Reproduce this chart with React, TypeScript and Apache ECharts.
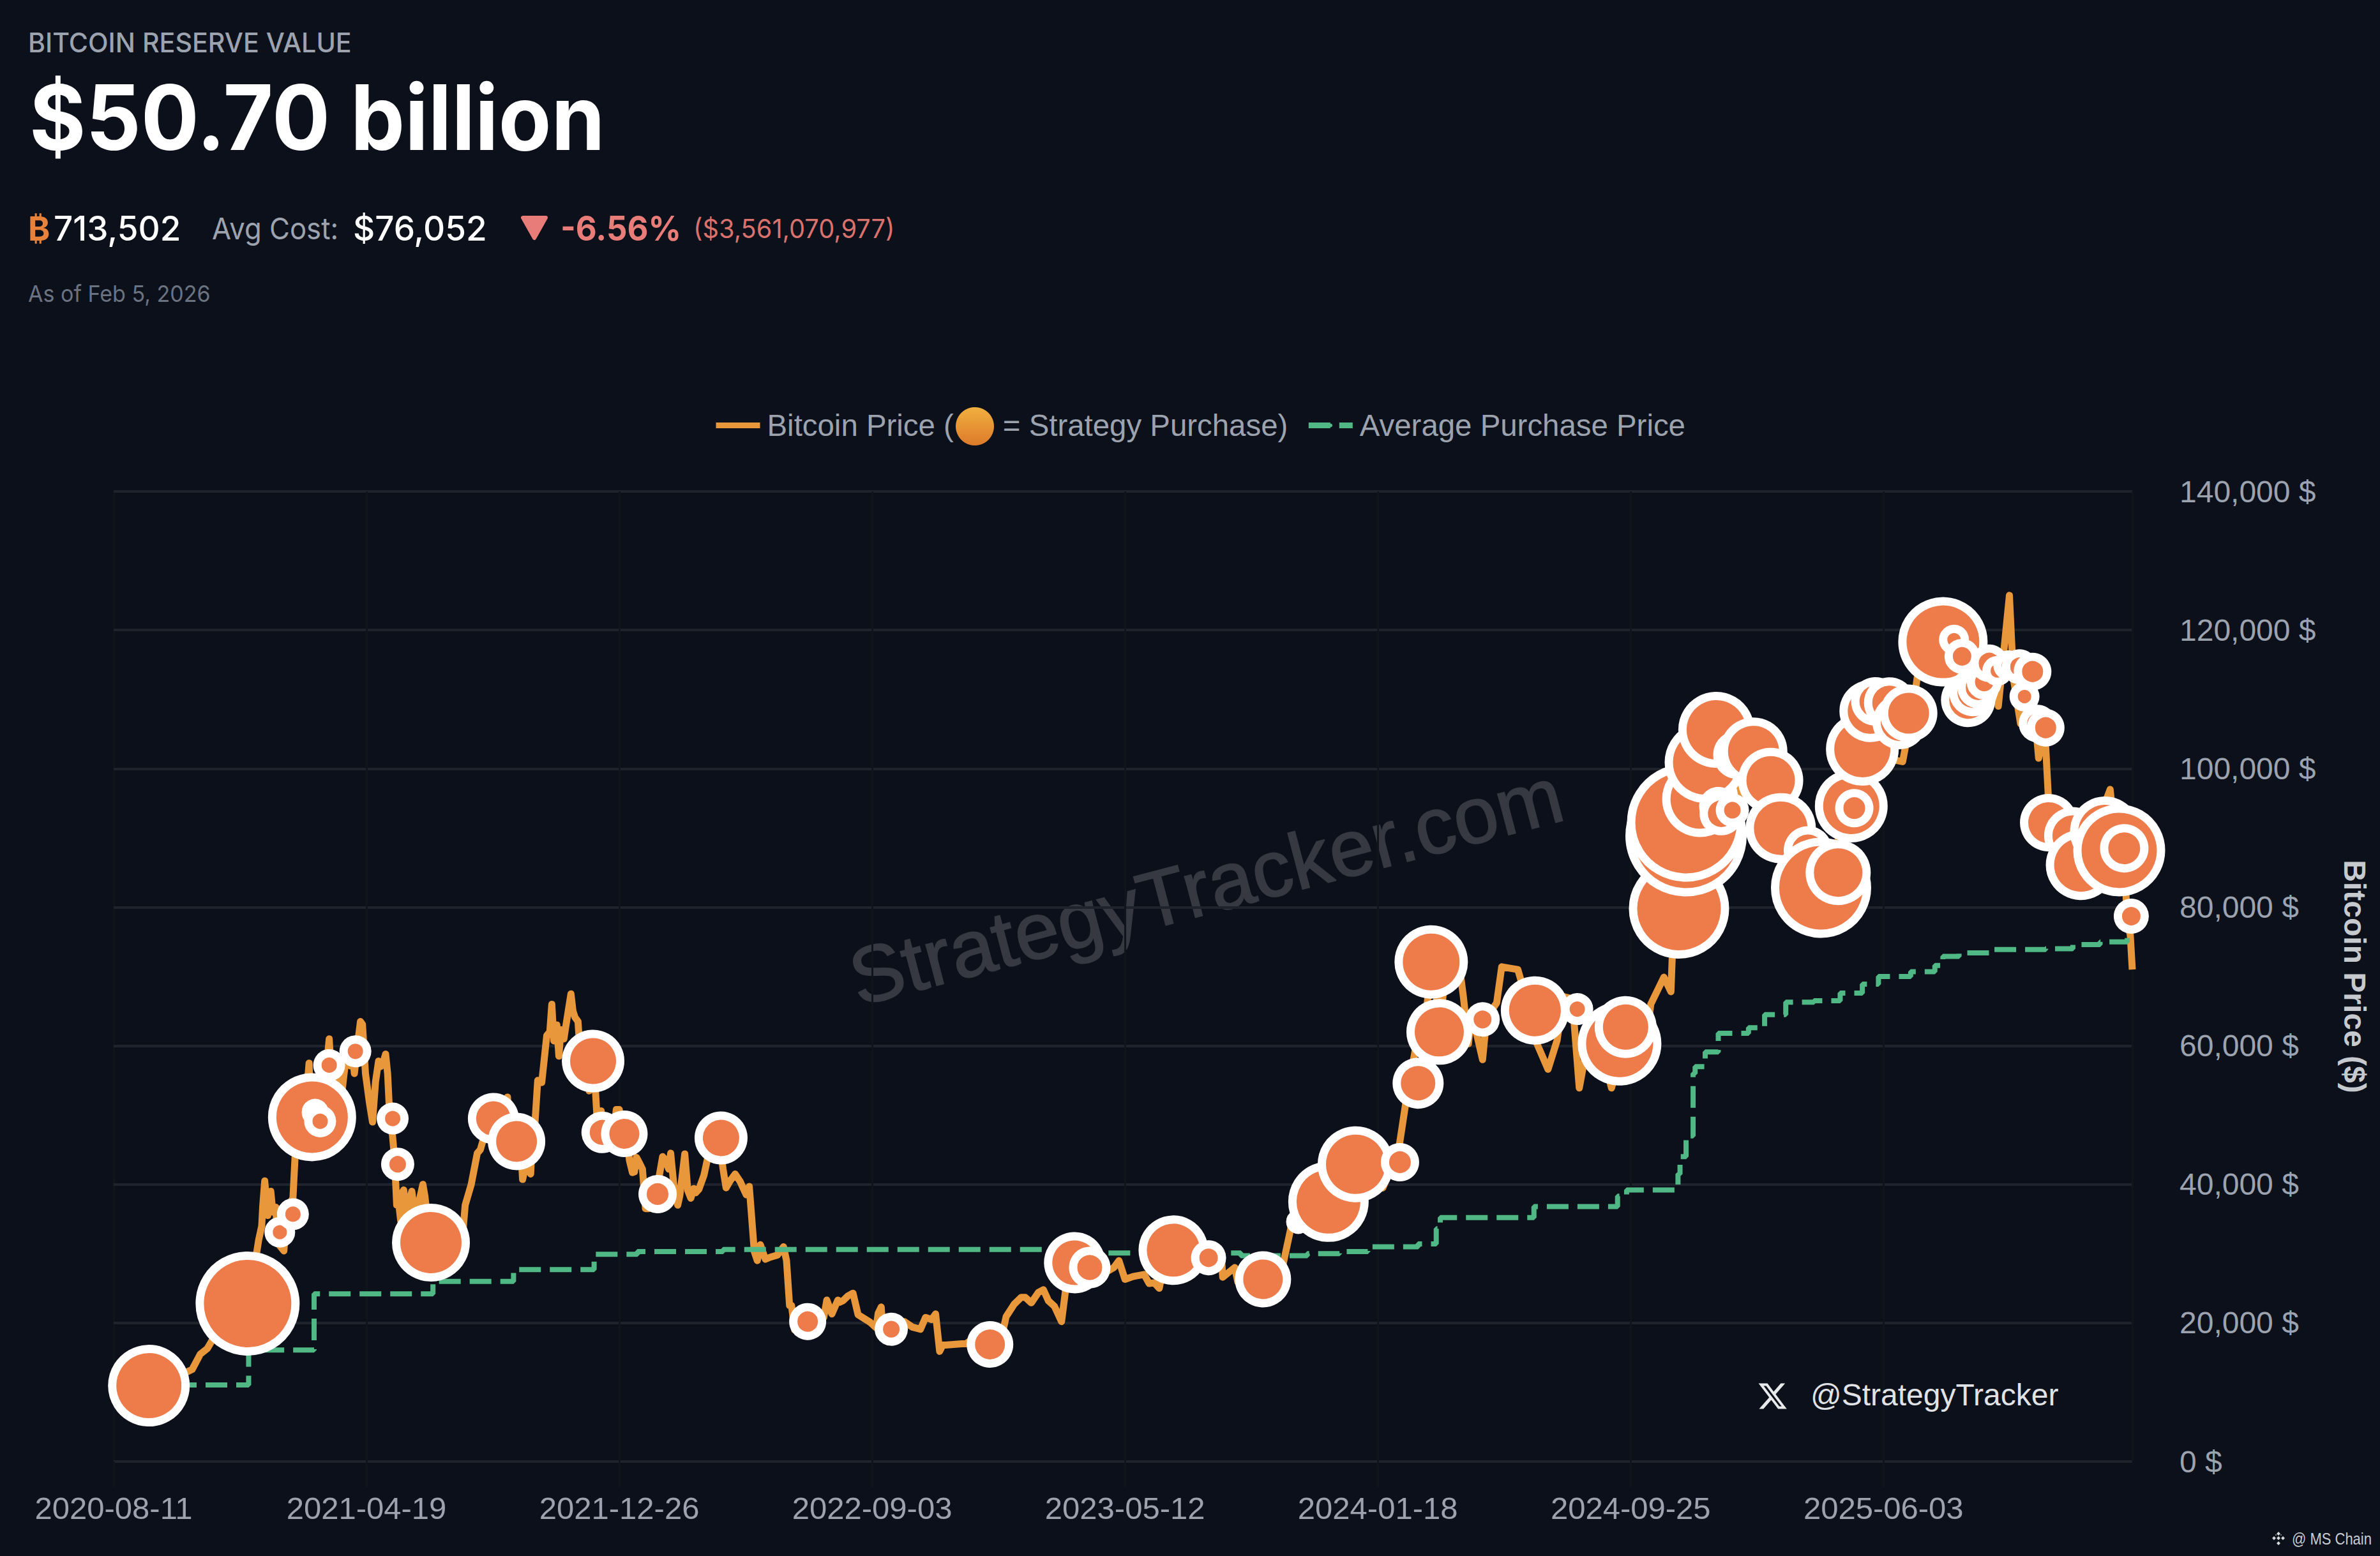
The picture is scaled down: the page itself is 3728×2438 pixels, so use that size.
import React, { useEffect, useRef } from "react";
import * as echarts from "echarts";

const xTickLabels = ["2020-08-11","2021-04-19","2021-12-26","2022-09-03","2023-05-12","2024-01-18","2024-09-25","2025-06-03"];
const START = Date.UTC(2020, 7, 11);
const dayOf = (s: string) => Math.round((Date.parse(s + "T00:00:00Z") - START) / 86400000);

const pricePoints: [string, number][] = [
["2020-08-11",11400],["2020-08-20",11800],["2020-09-05",10200],["2020-09-15",10800],["2020-09-25",10700],["2020-10-08",10900],["2020-10-15",11500],["2020-10-21",12800],["2020-10-28",13300],
["2020-11-05",15500],["2020-11-12",16300],["2020-11-18",17800],["2020-11-25",18700],["2020-11-27",17100],["2020-12-01",18800],["2020-12-08",18300],["2020-12-12",19000],["2020-12-16",21300],
["2020-12-20",24000],["2020-12-27",26500],["2021-01-02",32000],["2021-01-08",40500],["2021-01-11",35500],["2021-01-14",39000],["2021-01-21",31500],["2021-01-29",34000],["2021-02-03",37500],
["2021-02-08",46500],["2021-02-14",48700],["2021-02-21",57500],["2021-02-26",46500],["2021-03-02",48500],["2021-03-06",49000],["2021-03-13",61000],["2021-03-18",58000],["2021-03-25",52500],
["2021-03-31",59000],["2021-04-07",56000],["2021-04-13",63500],["2021-04-18",56000],["2021-04-25",49000],["2021-05-03",57000],["2021-05-08",58800],["2021-05-12",50000],["2021-05-15",46800],
["2021-05-19",37000],["2021-05-23",34700],["2021-05-28",36000],["2021-06-03",39000],["2021-06-08",33500],["2021-06-14",40000],["2021-06-21",31700],["2021-06-26",32000],["2021-07-03",34500],
["2021-07-10",33800],["2021-07-20",29800],["2021-07-26",37000],["2021-08-01",40000],["2021-08-07",44500],["2021-08-14",47000],["2021-08-22",49000],["2021-09-01",48800],["2021-09-06",52600],
["2021-09-08",46000],["2021-09-15",47700],["2021-09-21",40700],["2021-09-29",41500],["2021-10-01",48000],["2021-10-06",55000],["2021-10-15",61500],["2021-10-20",66000],["2021-10-27",58500],
["2021-11-01",61000],["2021-11-08",67500],["2021-11-10",65000],["2021-11-15",63500],["2021-11-18",56900],["2021-11-26",53500],["2021-12-01",57000],["2021-12-04",49200],["2021-12-10",47000],
["2021-12-16",47600],["2021-12-26",50800],["2022-01-01",47500],["2022-01-05",43500],["2022-01-10",41800],["2022-01-18",42200],["2022-01-24",36500],["2022-02-01",38700],["2022-02-10",43500],
["2022-02-15",44500],["2022-02-22",37000],["2022-03-01",44400],["2022-03-07",38000],["2022-03-15",39300],["2022-03-28",47500],["2022-04-05",45500],["2022-04-11",39500],["2022-04-20",41500],
["2022-05-01",38500],["2022-05-09",30300],["2022-05-12",29000],["2022-05-25",29500],["2022-06-07",31000],["2022-06-13",22500],["2022-06-18",19000],["2022-06-26",21000],["2022-07-01",19300],
["2022-07-13",20200],["2022-07-20",23300],["2022-07-31",23300],["2022-08-10",23900],["2022-08-15",24300],["2022-08-20",21200],["2022-09-01",20100],["2022-09-12",22300],["2022-09-19",19500],
["2022-10-01",19300],["2022-10-21",19100],["2022-11-05",21300],["2022-11-09",15900],["2022-11-15",16800],["2022-12-01",17000],["2022-12-13",17800],["2022-12-31",16500],["2023-01-08",17000],
["2023-01-14",20900],["2023-01-22",22700],["2023-02-02",23700],["2023-02-15",24400],["2023-02-20",24800],["2023-03-10",20200],["2023-03-14",24700],["2023-03-19",28000],["2023-04-01",28500],
["2023-04-13",30300],["2023-04-25",27500],["2023-05-06",29000],["2023-05-12",26300],["2023-05-31",27000],["2023-06-15",25000],["2023-06-22",30000],["2023-07-13",31400],["2023-08-01",29500],
["2023-08-16",29100],["2023-08-17",26600],["2023-09-01",25900],["2023-09-11",25100],["2023-10-01",27900],["2023-10-16",28500],["2023-10-24",33900],["2023-11-09",36700],["2023-12-05",44000],
["2023-12-20",43700],["2024-01-08",47000],["2024-01-11",46300],["2024-01-23",39500],["2024-02-08",45300],["2024-02-15",52000],["2024-02-28",62500],["2024-03-05",63800],["2024-03-13",73000],
["2024-03-19",62500],["2024-03-25",70000],["2024-04-08",71500],["2024-04-17",60300],["2024-05-01",58000],["2024-05-20",71400],["2024-06-05",71000],["2024-06-24",60300],["2024-07-05",56600],
["2024-07-14",60800],["2024-07-29",66800],["2024-08-05",53900],["2024-08-12",59400],["2024-08-26",62800],["2024-09-06",53900],["2024-09-18",60300],["2024-09-27",65800],["2024-10-10",60200],
["2024-10-28",69900],["2024-11-04",67800],["2024-11-06",75600],["2024-11-11",88600],["2024-11-13",90400],["2024-11-22",98900],["2024-11-26",91900],["2024-12-05",103500],["2024-12-17",106100],
["2024-12-30",92800],["2025-01-06",102000],["2025-01-13",94500],["2025-01-22",106000],["2025-02-03",97000],["2025-02-25",88700],["2025-03-02",94000],["2025-03-10",79000],["2025-03-24",87500],
["2025-04-08",76300],["2025-04-22",93500],["2025-05-08",103000],["2025-05-21",110000],["2025-06-05",101500],["2025-06-22",101000],["2025-07-03",109500],["2025-07-14",121000],["2025-07-22",119000],
["2025-08-01",113500],["2025-08-13",123500],["2025-09-01",108000],["2025-09-18",117000],["2025-09-25",109000],["2025-10-06",125000],["2025-10-10",113000],["2025-10-17",106500],["2025-10-27",115000],
["2025-11-04",101500],["2025-11-10",106000],["2025-11-14",95000],["2025-11-21",84000],["2025-12-01",86000],["2025-12-09",92500],["2025-12-15",86000],["2025-12-31",88000],["2026-01-05",93500],
["2026-01-14",97000],["2026-01-20",89000],["2026-01-29",84000],["2026-01-31",78000],["2026-02-03",76000],["2026-02-05",71000],
["2021-01-05",34000],["2021-01-06",36800],["2021-01-16",36000],["2021-01-19",36700],["2021-01-27",30400],["2021-02-01",33500],["2021-02-05",38000],["2021-02-11",47900],["2021-02-18",52000],
["2021-02-23",48800],["2021-03-03",50300],["2021-03-09",54800],["2021-03-15",55900],["2021-03-20",58300],["2021-03-23",54000],["2021-03-29",57500],["2021-04-03",57100],["2021-04-05",59000],
["2021-04-10",60000],["2021-04-15",63100],["2021-04-22",51700],["2021-04-28",54800],["2021-05-01",57800],["2021-05-05",57300],["2021-05-10",56000],["2021-05-13",49700],["2021-05-17",43500],
["2021-05-21",37300],["2021-05-24",38700],["2021-05-26",39200],["2021-05-31",37300],["2021-06-10",37400],["2021-06-16",38300],["2021-06-18",35800],["2021-07-02",33900],["2021-07-14",32800],
["2021-07-24",33600],["2021-08-10",45000],["2021-08-20",49300],["2021-08-28",48900],["2021-09-12",45100],["2021-09-18",48300],["2021-09-24",42800],["2021-10-03",48200],["2021-10-10",54700],
["2021-10-18",62000],["2021-10-22",60700],["2021-10-25",63000],["2021-10-29",62300],["2021-11-03",62900],["2021-11-12",64100],["2021-11-19",58100],["2021-11-22",56300],["2021-11-29",57800],
["2021-12-08",50600],["2021-12-13",46700],["2021-12-20",46900],["2021-12-23",50800],["2021-12-28",47500],["2022-01-03",46400],["2022-01-08",41700],["2022-01-12",43900],["2022-01-15",43100],
["2022-01-21",36500],["2022-01-28",37700],["2022-02-04",41500],["2022-02-07",44000],["2022-02-13",42200],["2022-02-18",40000],["2022-02-24",38300],["2022-02-28",43200],["2022-03-04",39100],
["2022-03-10",39400],["2022-03-12",38800],["2022-03-20",41300],["2022-03-24",44000],["2022-04-02",45800],["2022-04-08",42200],["2022-04-15",40500],["2022-04-25",40400],["2022-05-04",39700],
["2022-05-06",36000],["2022-05-15",31300],["2022-05-20",29200],["2022-06-01",29800],["2022-06-10",29000],["2022-06-15",22500],["2022-07-08",21600],["2022-07-17",20800],["2022-07-25",21300],
["2022-08-02",23000],["2022-08-05",23200],["2022-09-07",19300],["2022-09-09",21400],["2022-09-13",20200],["2022-09-25",18800],["2022-10-05",20200],["2022-10-13",19400],["2022-10-26",20800],
["2022-11-01",20500],["2022-11-12",16800],["2022-12-05",17000],["2022-12-18",16800],["2023-01-29",23700],["2023-02-08",22900],["2023-02-25",23200],["2023-03-03",22400],["2023-03-22",27300],
["2023-04-20",28200],["2023-05-01",28000],["2023-05-20",26700],["2023-06-05",25700],["2023-06-10",25800],["2023-06-28",30100],["2023-07-05",30500],["2023-07-24",29100],["2023-08-10",29400],
["2023-08-29",28000],["2023-09-20",27100],["2023-10-10",27400],["2023-11-20",37500],["2023-12-10",43800],["2023-12-12",41300],["2024-04-12",67000],["2024-04-20",64900],["2024-05-05",64000],
["2024-05-15",66200],["2024-06-15",66000],["2024-06-20",64900],["2024-07-20",67100],["2024-08-20",59000],["2024-08-28",59000],["2024-09-30",63300],["2024-10-15",66000],
];

const avgDays = [0,134,199,317,397,477,520,605,929,1119,1185,1217,1245,1295,1313,1317,1410,1493,1502,1553,1555,1561,1568,1570,1580,1593,1623,1639,1660,1688,1714,1736,1752,1784,1808,1816,1832,1865,1918,1945,1972,1999,2004];
const avgPrices = [11050,16100,24200,26000,27700,29900,30300,30600,30100,29700,30000,30300,31000,31400,33600,35200,36800,38300,39200,41500,44000,47000,56000,57000,59100,61800,62600,64500,66300,66500,67600,68900,70000,70700,71600,72900,73400,73900,74000,74600,75000,76000,76052];

const purchaseDays = [35,133,165,178,197,200,205,214,240,277,282,315,377,400,476,485,507,540,603,689,772,870,954,969,1052,1087,1141,1176,1206,1233,1277,1295,1308,1316,1359,1411,1453,1495,1501,1554,1561,1561,1575,1580,1591,1593,1596,1607,1612,1628,1645,1655,1682,1695,1712,1725,1728,1736,1744,1749,1763,1773,1782,1816,1827,1835,1841,1846,1851,1857,1862,1870,1881,1892,1897,1905,1910,1918,1921,1945,1953,1977,1991,1996,2003];
const purchasePrices = [10950,22800,33100,35700,49700,50400,49100,57200,59200,49500,42900,31600,49500,46200,57800,47500,47300,38600,46700,20200,19100,16900,28700,28000,30500,29400,26300,34600,37500,42900,43200,54600,72100,62000,63800,65100,65300,60300,62700,79800,90300,92200,95600,100900,105600,94600,93500,94000,102000,102500,98300,91400,88200,82800,85000,94600,94300,102800,108300,109700,109500,106700,108000,118300,118600,116200,109900,111000,111700,112500,115200,114100,114900,114700,110400,114000,106500,105900,92200,90300,86100,90900,88200,88500,78700];
const purchaseScale = [128,163,48,50,138,42,50,50,50,50,52,122,80,90,98,65,73,60,83,58,52,73,96,65,109,55,88,38,126,119,60,80,115,103,54,107,50,131,97,157,190,185,119,127,119,60,68,52,76,106,102,110,76,157,102,114,60,114,97,76,80,85,90,140,47,55,85,75,65,55,59,47,47,55,47,59,59,59,90,90,110,110,144,76,55];

const BG = "#0c101a";
const SANS = "Liberation Sans, Helvetica, Arial, sans-serif";
const XPATH = "M18.244 2.25h3.308l-7.227 8.26 8.502 11.24H16.17l-5.214-6.817L4.99 21.75H1.68l7.73-8.835L1.254 2.25H8.08l4.713 6.231zm-1.161 17.52h1.833L7.084 4.126H5.117z";
const DIAMOND = "M12 1l3 3-3 3-3-3zM5 8l3 3-3 3-3-3zM19 8l3 3-3 3-3-3zM12 8l3 3-3 3-3-3zM12 16l3 3-3 3-3-3zM8 5l1 1-1 1-1-1zM16 5l1 1-1 1-1-1z";
echarts.graphic.registerShape("xlogo", echarts.graphic.extendPath(XPATH as any, {}) as any);
echarts.graphic.registerShape("mslogo", echarts.graphic.extendPath(DIAMOND as any, {}) as any);

const header = (text: string, x: number, y: number, fontSize: number, fill: string, fontWeight: any = 400, scaleX = 1, fontFamily = "Inter") => ({
  type: "text", x, y, z: 5, scaleX,
  style: { text, fontSize, fill, fontWeight, fontFamily, textAlign: "left", textVerticalAlign: "middle" },
});

export default function App() {
  const ref = useRef<HTMLDivElement>(null);
  useEffect(() => {
    document.body.style.margin = "0";
    document.body.style.background = BG;
    const chart = echarts.init(ref.current!, undefined, { renderer: "svg" });
    const priceName = "Bitcoin Price ( = Strategy Purchase)";
    const avgName = "Average Purchase Price";
    const sortedPrices = [...pricePoints].sort((a, b) => dayOf(a[0]) - dayOf(b[0]));
    chart.setOption({
      animation: false,
      backgroundColor: BG,
      grid: { left: 178, right: 388, top: 770, bottom: 148, containLabel: false },
      legend: {
        left: 1112, top: 638, itemWidth: 69, itemHeight: 7, itemGap: 28,
        data: [priceName, avgName],
        lineStyle: { width: 9 },
        formatter: (n: string) => n === priceName ? "{a|Bitcoin Price (}{coin| }{a|= Strategy Purchase)}" : "{a|" + n + "}",
        textStyle: {
          color: "#9ca3af", fontSize: 47.4, fontFamily: SANS,
          rich: {
            a: { color: "#9ca3af", fontSize: 47.4, fontFamily: SANS, padding: [0, 0, 0, 6], height: 60 },
            coin: { width: 71, height: 60 },
          },
        },
      },
      xAxis: {
        type: "value", min: 0, max: 2004, interval: 251,
        axisLine: { show: false },
        axisTick: { show: true, length: 40, lineStyle: { color: "#10141d", width: 3 } },
        splitLine: { show: true, lineStyle: { color: "#10141d", width: 3 } },
        axisLabel: {
          color: "#9ca3af", fontSize: 49, fontFamily: SANS, margin: 48, showMaxLabel: false,
          formatter: (v: number) => xTickLabels[Math.round(v / 251)] ?? "",
        },
      },
      yAxis: {
        type: "value", position: "right", min: 0, max: 140000, interval: 20000,
        name: "Bitcoin Price ($)", nameLocation: "middle", nameRotate: -90, nameGap: 324,
        nameTextStyle: { color: "#c6c9ce", fontSize: 48, fontWeight: "bold", fontFamily: SANS },
        axisLine: { show: false },
        axisTick: { show: true, length: 62, lineStyle: { color: "#1f232c", width: 4 } },
        splitLine: { show: true, lineStyle: { color: "#1f232c", width: 4 } },
        axisLabel: {
          color: "#9ca3af", fontSize: 48, fontFamily: SANS, margin: 74,
          formatter: (v: number) => v.toLocaleString("en-US") + " $",
        },
      },
      series: [
        {
          name: priceName, type: "line", showSymbol: false, symbol: "none", z: 2,
          lineStyle: { color: "#e8973a", width: 11, join: "round" }, itemStyle: { color: "#e8973a" },
          data: sortedPrices.map(([d, v]) => [dayOf(d), v]),
        },
        {
          name: avgName, type: "line", step: "end", showSymbol: false, symbol: "none", z: 3,
          lineStyle: { color: "#4fb885", width: 8, type: [34, 14] }, itemStyle: { color: "#4fb885" },
          data: avgDays.map((d, i) => [d, avgPrices[i]]),
        },
        {
          name: "Strategy Purchase", type: "scatter", z: 4,
          symbolSize: (v: number[]) => v[2] - 13,
          itemStyle: { color: "#ee7b4a", borderColor: "#ffffff", borderWidth: 13, opacity: 1 },
          data: purchaseDays.map((d, i) => [d, purchasePrices[i], purchaseScale[i]]),
        },
      ],
      graphic: [
        header("BITCOIN RESERVE VALUE", 44, 67, 42, "#9ca3af", 500, 0.98),
        header("$50.70 billion", 46, 183, 141, "#ffffff", 700, 0.958),
        header("₿", 44, 358, 52, "#e8823a", 700),
        header("713,502", 84, 358, 53, "#ffffff", 500),
        header("Avg Cost:", 332, 358, 47, "#9ca3af", 400, 0.93),
        header("$76,052", 553, 358, 53, "#ffffff", 500),
        { type: "polygon", z: 5, shape: { points: [[819, 341], [855, 341], [837, 373]] }, style: { fill: "#e87c78", stroke: "#e87c78", lineWidth: 6, lineJoin: "round" } },
        header("-6.56%", 878, 358, 53, "#e87c78", 700, 0.96),
        header("($3,561,070,977)", 1086, 358, 41, "#d9726d", 400, 0.97),
        header("As of Feb 5, 2026", 44, 460, 36, "#6b7280", 400, 0.945),
        { type: "text", z: -1, x: 1889, y: 1388, rotation: (14.8 * Math.PI) / 180, style: { text: "StrategyTracker.com", fontSize: 125, fill: "#363942", stroke: "#363942", lineWidth: 2, fontFamily: SANS, textAlign: "center", textVerticalAlign: "middle" } },
        { type: "xlogo", z: 5, x: 2752, y: 2163, scaleX: 2.05, scaleY: 2.05, style: { fill: "#e8e9eb" } },
        header("@StrategyTracker", 2836, 2185, 48, "#e0e2e6", 400, 1, SANS),
        { type: "circle", z: 6, shape: { cx: 1527, cy: 668, r: 30 }, style: { fill: new echarts.graphic.LinearGradient(0, 0, 0, 1, [{ offset: 0, color: "#f0b03f" }, { offset: 1, color: "#dd7a2a" }]) } },
        { type: "mslogo", z: 5, x: 3557, y: 2399, scaleX: 1, scaleY: 1, style: { fill: "#d8dade" } },
        header("@ MS Chain", 3590, 2412, 25, "#c9ccd2", 400, 0.88, SANS),
      ],
    });
    return () => chart.dispose();
  }, []);
  return <div ref={ref} style={{ position: "absolute", left: 0, top: 0, width: 3728, height: 2438 }} />;
}
